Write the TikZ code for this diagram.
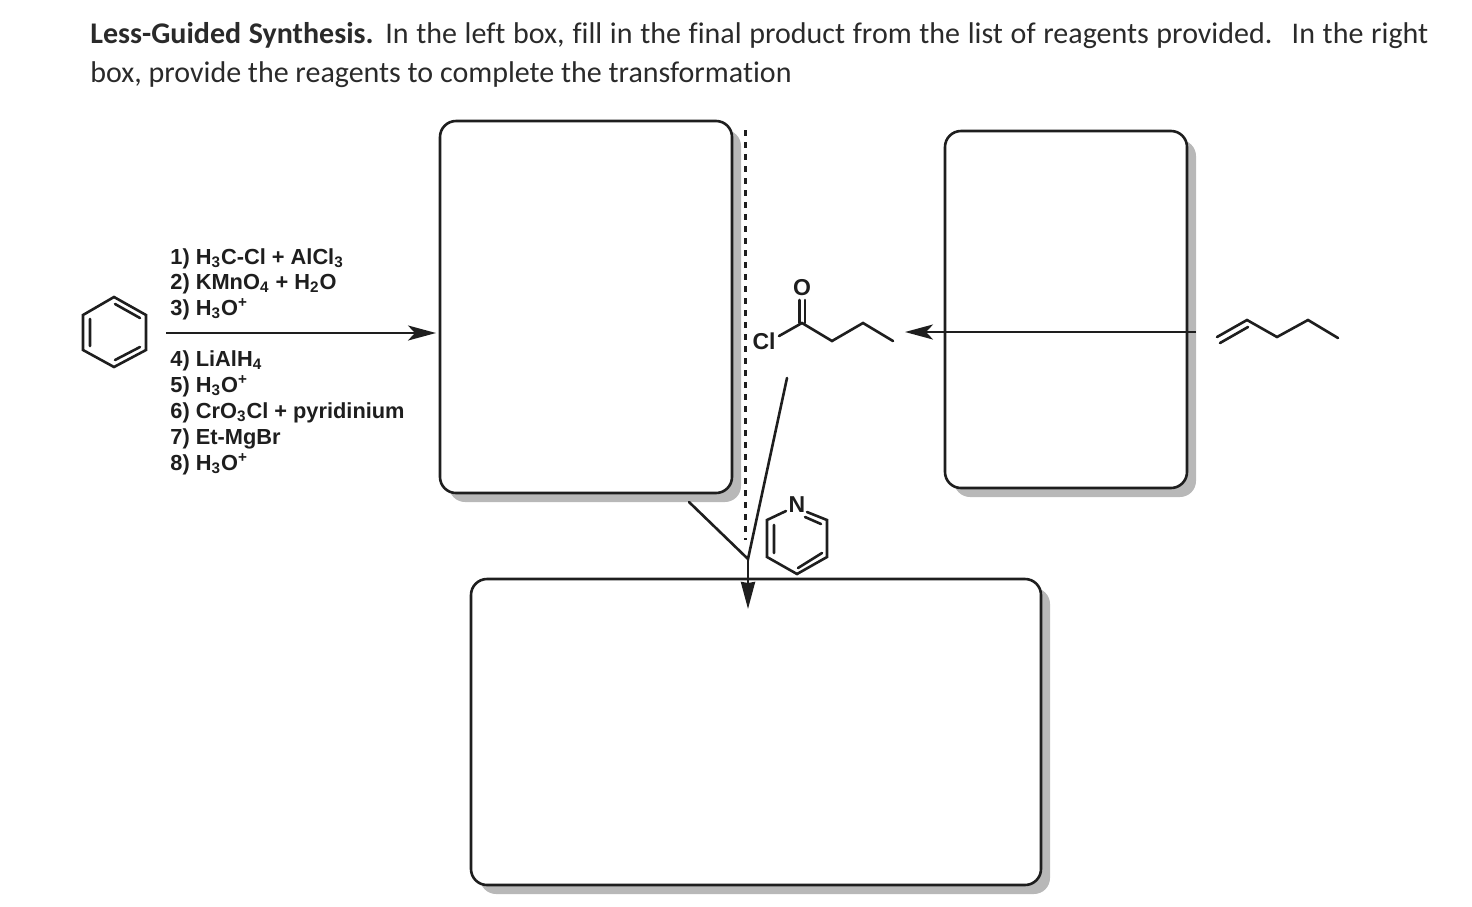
\documentclass[tikz,border=0pt]{standalone}
\usepackage{fontspec}
\setmainfont{Carlito}[Ligatures=NoCommon]
\newfontfamily\reagentfont{Liberation Sans}[BoldFont={Liberation Sans Bold}]
\usetikzlibrary{shadows,arrows.meta}
\definecolor{ink}{HTML}{1E1E1E}
\definecolor{shade}{HTML}{B8B8B8}
\definecolor{headtext}{HTML}{2A2A2A}
\tikzset{
  x=0.5pt,y=-0.5pt,
  bond/.style={draw=ink,line width=1.3pt,line join=miter,line cap=round},
  answerbox/.style={draw=ink,fill=white,line width=1.3pt,rounded corners=8pt,inner sep=0pt,
    drop shadow={shadow xshift=4.5pt,shadow yshift=-4.5pt,fill=shade,opacity=1}},
  reagent/.style={anchor=base west,inner sep=0pt,text=ink,font=\reagentfont\bfseries\fontsize{10.9}{12}\selectfont},
  atom/.style={inner sep=0pt,text=ink,font=\reagentfont\bfseries\fontsize{11.5}{12}\selectfont},
  head/.style={anchor=base west,inner sep=0pt,text=headtext,font=\fontsize{15}{17}\selectfont},
  arrowline/.style={draw=ink,line width=1.3pt,-{Stealth[length=14pt,width=7.5pt,inset=3.5pt]}},
  droparrow/.style={draw=ink,line width=1.3pt,-{Stealth[length=13.5pt,width=7pt,inset=0.5pt]}},
}
\begin{document}
\begin{tikzpicture}
\useasboundingbox (0,0) rectangle (1472,906);
% heading
\node[head] (h1) at (90,43) {\makebox[669pt][s]{\textbf{Less-Guided Synthesis.} In the left box, fill in the final product from the list of reagents provided. \ In the right}};
\node[head] (h2) at (90,82) {box, provide the reagents to complete the transformation};
% answer boxes
\node[answerbox,minimum width=146pt,minimum height=186pt] (boxL) at (586,307) {};
\node[answerbox,minimum width=121pt,minimum height=178.5pt] (boxR) at (1066,309.5) {};
\node[answerbox,minimum width=285pt,minimum height=153pt] (boxB) at (756,732) {};
% divider
\coordinate (divT) at (745,130);
\coordinate (divB) at (745,540);
\draw[draw=ink,line width=1.5pt,dash pattern=on 3pt off 3pt] (divT) -- (divB);
% reagents
\node[reagent] (r1) at (170,264) {1) H\textsubscript{3}C-Cl + AlCl\textsubscript{3}};
\node[reagent] (r2) at (170,289) {2) KMnO\textsubscript{4} + H\textsubscript{2}O};
\node[reagent] (r3) at (170,315) {3) H\textsubscript{3}O\textsuperscript{+}};
\node[reagent] (r4) at (170,366) {4) LiAlH\textsubscript{4}};
\node[reagent] (r5) at (170,392) {5) H\textsubscript{3}O\textsuperscript{+}};
\node[reagent] (r6) at (170,418) {6) CrO\textsubscript{3}Cl + pyridinium};
\node[reagent] (r7) at (170,444) {7) Et-MgBr};
\node[reagent] (r8) at (170,470) {8) H\textsubscript{3}O\textsuperscript{+}};
% benzene
\coordinate (b1) at (114,297);\coordinate (b2) at (146,315);\coordinate (b3) at (146,350);
\coordinate (b4) at (114,367);\coordinate (b5) at (83,350);\coordinate (b6) at (83,315);
\draw[bond] (b1)--(b2)--(b3)--(b4)--(b5)--(b6)--cycle;
\coordinate (bi1) at (115,304);\coordinate (bi2) at (140,318);
\coordinate (bi3) at (140,347);\coordinate (bi4) at (115,360);
\coordinate (bi5) at (90,319);\coordinate (bi6) at (90,346);
\draw[bond] (bi1)--(bi2) (bi3)--(bi4) (bi5)--(bi6);
% main arrows
\coordinate (a1s) at (166,333);\coordinate (a1e) at (436,333);
\draw[arrowline] (a1s) -- (a1e);
\coordinate (a2s) at (1196,332);\coordinate (a2e) at (905,332);
\draw[arrowline] (a2s) -- (a2e);
% acid chloride
\node[atom] (cl) at (764,341) {Cl};
\node[atom] (o) at (802,288) {O};
\coordinate (c1) at (802,323);\coordinate (c2) at (832,341);\coordinate (c3) at (863,323);\coordinate (c4) at (893,341);
\coordinate (clb) at (779,336);
\draw[bond] (clb)--(c1)--(c2)--(c3)--(c4);
\coordinate (o1) at (799.5,300);\coordinate (o2) at (799.5,323);\coordinate (o3) at (805,300);\coordinate (o4) at (805,323);
\draw[bond] (o1)--(o2) (o3)--(o4);
% pentene
\coordinate (p1) at (1217,337);\coordinate (p2) at (1247,320);\coordinate (p3) at (1277,337);\coordinate (p4) at (1308,320);\coordinate (p5) at (1338,338);
\coordinate (p6) at (1220,343);\coordinate (p7) at (1248,327);
\draw[bond] (p1)--(p2)--(p3)--(p4)--(p5) (p6)--(p7);
% reaction lines
\coordinate (m1) at (689,502);\coordinate (m2) at (787,378);\coordinate (mj) at (748,559);\coordinate (me) at (748,609);
\draw[bond] (m1)--(mj)--(m2);
\draw[droparrow] (mj) -- (me);
% pyridine
\node[atom] (n) at (797,505) {N};
\coordinate (y1) at (786,511);\coordinate (y2) at (767,520);\coordinate (y3) at (767,557);\coordinate (y4) at (797,574);\coordinate (y5) at (827,557);\coordinate (y6) at (827,520);\coordinate (y7) at (807,512);
\draw[bond] (y1)--(y2)--(y3)--(y4)--(y5)--(y6)--(y7);
\coordinate (yi1) at (774,525);\coordinate (yi2) at (774,553);\coordinate (yi3) at (798,568);\coordinate (yi4) at (822,553);\coordinate (yi5) at (805,517);\coordinate (yi6) at (821,524);
\draw[bond] (yi1)--(yi2) (yi3)--(yi4) (yi5)--(yi6);
\end{tikzpicture}
\end{document}
